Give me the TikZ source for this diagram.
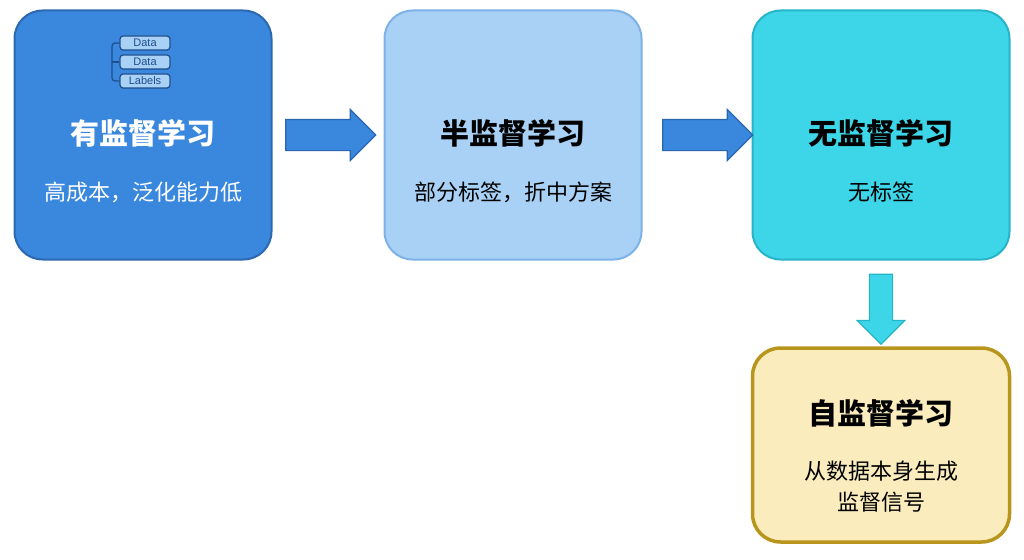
\documentclass[tikz,border=0pt]{standalone}
\usepackage{fontspec}
\setmainfont{Noto Sans CJK SC}
\newfontfamily\lat{Liberation Sans}
\usetikzlibrary{shapes.arrows,calc}
\definecolor{b1f}{HTML}{3A87DE}\definecolor{b1d}{HTML}{2C68B0}
\definecolor{b2f}{HTML}{A9D1F6}\definecolor{b2d}{HTML}{7DB2E6}
\definecolor{b3f}{HTML}{3DD6E8}\definecolor{b3d}{HTML}{27B3C8}
\definecolor{b4f}{HTML}{FBECBE}\definecolor{b4d}{HTML}{B8951C}
\definecolor{arr}{HTML}{3A87DE}\definecolor{arrd}{HTML}{2A66B0}
\definecolor{tagf}{HTML}{A9D1F6}\definecolor{tagd}{HTML}{1E4E8C}
\tikzset{x=1pt,y=-1pt,
 card/.style={rounded corners=28pt,line width=2pt,minimum width=257pt,minimum height=249pt,inner sep=0pt},
 ttl/.style={font=\fontsize{29}{33}\selectfont\bfseries},
 sub/.style={font=\fontsize{22}{31}\selectfont},
 barrow/.style={single arrow,single arrow head extend=10pt,inner xsep=0pt,inner ysep=15pt,minimum height=90pt,line width=1.2pt},
 tag/.style={draw=tagd,fill=tagf,line width=1.2pt,rounded corners=3pt,minimum width=50pt,minimum height=14pt,inner sep=0pt,font=\lat\fontsize{11}{12}\selectfont,text=tagd}}
\begin{document}
\begin{tikzpicture}
\useasboundingbox (0,0) rectangle (1024,559);
\node[card,draw=b1d,fill=b1f] (c1) at (143,135) {};
\node[card,draw=b2d,fill=b2f] (c2) at (513,135) {};
\node[card,draw=b3d,fill=b3f] (c3) at (881,135) {};
\node[card,draw=b4d,fill=b4f,line width=3.5pt,minimum height=194pt] (c4) at (881,445) {};
\node[ttl,text=white] (t1) at (143,133) {有监督学习};
\node[sub,text=white] (s1) at (143,192) {高成本，泛化能力低};
\node[ttl,text=black] (t2) at (513,133) {半监督学习};
\node[sub,text=black] (s2) at (513,192) {部分标签，折中方案};
\node[ttl,text=black] (t3) at (881,133) {无监督学习};
\node[sub,text=black] (s3) at (881,192) {无标签};
\node[ttl,text=black] (t4) at (881,413) {自监督学习};
\node[sub,text=black,align=center] (s4) at (881,487) {从数据本身生成\\监督信号};
\node[barrow,draw=arrd,fill=arr] (a1) at (323,135) {};
\node[barrow,draw=arrd,fill=arr] (a2) at (700,135) {};
\node[barrow,draw=b3d,fill=b3f,rotate=-90,minimum height=70pt,inner ysep=11pt,single arrow head extend=12pt] (a3) at ($(c3.south)!0.5!(c4.north)$) {};
\node[tag] (g1) at (145,43) {Data};
\node[tag] (g2) at (145,62) {Data};
\node[tag] (g3) at (145,81) {Labels};
\coordinate (br) at (112,62);
\draw[tagd,line width=1.2pt,rounded corners=3pt] (g1.west) -| (br) |- (g3.west);
\draw[tagd,line width=1.2pt] (br) -- (g2.west);
\end{tikzpicture}
\end{document}
